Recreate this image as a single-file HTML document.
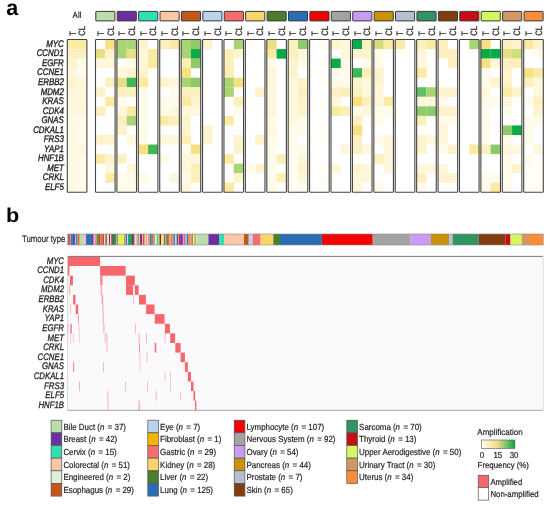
<!DOCTYPE html>
<html><head><meta charset="utf-8"><title>Figure</title>
<style>
html,body{margin:0;padding:0;background:#fff;}
body{width:550px;height:505px;overflow:hidden;}
svg{display:block;font-family:'Liberation Sans', Arial, sans-serif;text-rendering:geometricPrecision;}
</style></head>
<body>
<svg width="550" height="505" viewBox="0 0 550 505">
<text transform="translate(6.2,15.3)" font-size="21.5" font-weight="bold" fill="#000">a</text>
<text transform="translate(72.6,18) scale(0.9,1)" font-size="8.8" fill="#231f20" stroke="#231f20" stroke-width="0.2">All</text>
<rect x="67.3" y="39.5" width="9.85" height="9.6" fill="#fbeaa2"/>
<rect x="77.1" y="39.5" width="9.85" height="9.6" fill="#fbeaa2"/>
<rect x="67.3" y="49.05" width="9.85" height="9.6" fill="#fcf0c1"/>
<rect x="77.1" y="49.05" width="9.85" height="9.6" fill="#fcf0c1"/>
<rect x="67.3" y="58.6" width="9.85" height="9.6" fill="#fdf3cd"/>
<rect x="77.1" y="58.6" width="9.85" height="9.6" fill="#fffbeb"/>
<rect x="67.3" y="68.15" width="9.85" height="9.6" fill="#fef7dc"/>
<rect x="77.1" y="68.15" width="9.85" height="9.6" fill="#fffbeb"/>
<rect x="67.3" y="77.7" width="9.85" height="9.6" fill="#fdf3cd"/>
<rect x="77.1" y="77.7" width="9.85" height="9.6" fill="#fef7dc"/>
<rect x="67.3" y="87.25" width="9.85" height="9.6" fill="#fef7dc"/>
<rect x="77.1" y="87.25" width="9.85" height="9.6" fill="#fef7dc"/>
<rect x="67.3" y="96.8" width="9.85" height="9.6" fill="#fef7dc"/>
<rect x="77.1" y="96.8" width="9.85" height="9.6" fill="#fef7dc"/>
<rect x="67.3" y="106.35" width="9.85" height="9.6" fill="#fef7dc"/>
<rect x="77.1" y="106.35" width="9.85" height="9.6" fill="#fef7dc"/>
<rect x="67.3" y="115.9" width="9.85" height="9.6" fill="#fef9e2"/>
<rect x="77.1" y="115.9" width="9.85" height="9.6" fill="#fffbeb"/>
<rect x="67.3" y="125.45" width="9.85" height="9.6" fill="#fef9e2"/>
<rect x="77.1" y="125.45" width="9.85" height="9.6" fill="#fffbeb"/>
<rect x="67.3" y="135" width="9.85" height="9.6" fill="#fef9e2"/>
<rect x="77.1" y="135" width="9.85" height="9.6" fill="#fffbeb"/>
<rect x="67.3" y="144.55" width="9.85" height="9.6" fill="#fef9e2"/>
<rect x="77.1" y="144.55" width="9.85" height="9.6" fill="#fef7dc"/>
<rect x="67.3" y="154.1" width="9.85" height="9.6" fill="#fef9e2"/>
<rect x="77.1" y="154.1" width="9.85" height="9.6" fill="#fffbeb"/>
<rect x="67.3" y="163.65" width="9.85" height="9.6" fill="#fef9e2"/>
<rect x="77.1" y="163.65" width="9.85" height="9.6" fill="#fffbeb"/>
<rect x="67.3" y="173.2" width="9.85" height="9.6" fill="#fef9e2"/>
<rect x="77.1" y="173.2" width="9.85" height="9.6" fill="#fffbeb"/>
<rect x="67.3" y="182.75" width="9.85" height="9.6" fill="#fef9e2"/>
<rect x="77.1" y="182.75" width="9.85" height="9.6" fill="#fffbeb"/>
<rect x="67.3" y="39.5" width="19.6" height="152.8" fill="none" stroke="#444" stroke-width="1.1" rx="0.8"/>
<text transform="translate(75.5,35.7) rotate(-90) scale(0.8,1)" font-size="9.3" fill="#231f20" stroke="#231f20" stroke-width="0.25">T</text>
<text transform="translate(85.3,35.7) rotate(-90) scale(0.8,1)" font-size="9.3" fill="#231f20" stroke="#231f20" stroke-width="0.25">CL</text>
<rect x="105.3" y="39.5" width="9.85" height="9.6" fill="#f7e07e"/>
<rect x="95.5" y="49.05" width="9.85" height="9.6" fill="#e6df84"/>
<rect x="105.3" y="49.05" width="9.85" height="9.6" fill="#fdf3cd"/>
<rect x="95.5" y="58.6" width="9.85" height="9.6" fill="#fef7dc"/>
<rect x="105.3" y="58.6" width="9.85" height="9.6" fill="#fef7dc"/>
<rect x="105.3" y="77.7" width="9.85" height="9.6" fill="#fcf0c1"/>
<rect x="95.5" y="87.25" width="9.85" height="9.6" fill="#fdf3cd"/>
<rect x="105.3" y="96.8" width="9.85" height="9.6" fill="#fbeaa2"/>
<rect x="95.5" y="106.35" width="9.85" height="9.6" fill="#fcf0c1"/>
<rect x="95.5" y="135" width="9.85" height="9.6" fill="#fdf3cd"/>
<rect x="105.3" y="135" width="9.85" height="9.6" fill="#fdf3cd"/>
<rect x="95.5" y="154.1" width="9.85" height="9.6" fill="#fbeaa2"/>
<rect x="105.3" y="154.1" width="9.85" height="9.6" fill="#fdf3cd"/>
<rect x="105.3" y="163.65" width="9.85" height="9.6" fill="#fef7dc"/>
<rect x="105.3" y="173.2" width="9.85" height="9.6" fill="#fbeaa2"/>
<rect x="95.5" y="39.5" width="19.6" height="152.8" fill="none" stroke="#444" stroke-width="1.1" rx="0.8"/>
<text transform="translate(103.7,35.7) rotate(-90) scale(0.8,1)" font-size="9.3" fill="#231f20" stroke="#231f20" stroke-width="0.25">T</text>
<text transform="translate(113.5,35.7) rotate(-90) scale(0.8,1)" font-size="9.3" fill="#231f20" stroke="#231f20" stroke-width="0.25">CL</text>
<rect x="95.8" y="11.4" width="19.1" height="9.5" fill="#bcdcaa" stroke="#3a3a3a" stroke-width="1" rx="0.4"/>
<rect x="116.91" y="39.5" width="9.85" height="9.6" fill="#a9d473"/>
<rect x="126.71" y="39.5" width="9.85" height="9.6" fill="#a9d473"/>
<rect x="116.91" y="49.05" width="9.85" height="9.6" fill="#a9d473"/>
<rect x="126.71" y="49.05" width="9.85" height="9.6" fill="#e6df84"/>
<rect x="116.91" y="58.6" width="9.85" height="9.6" fill="#fffdf4"/>
<rect x="126.71" y="58.6" width="9.85" height="9.6" fill="#fffbeb"/>
<rect x="116.91" y="68.15" width="9.85" height="9.6" fill="#fef7dc"/>
<rect x="126.71" y="68.15" width="9.85" height="9.6" fill="#fdf3cd"/>
<rect x="116.91" y="77.7" width="9.85" height="9.6" fill="#e6df84"/>
<rect x="126.71" y="77.7" width="9.85" height="9.6" fill="#40b753"/>
<rect x="116.91" y="87.25" width="9.85" height="9.6" fill="#fcf0c1"/>
<rect x="126.71" y="87.25" width="9.85" height="9.6" fill="#fcf0c1"/>
<rect x="116.91" y="96.8" width="9.85" height="9.6" fill="#fffbeb"/>
<rect x="116.91" y="106.35" width="9.85" height="9.6" fill="#fef7dc"/>
<rect x="126.71" y="106.35" width="9.85" height="9.6" fill="#fbeaa2"/>
<rect x="116.91" y="115.9" width="9.85" height="9.6" fill="#fcf0c1"/>
<rect x="126.71" y="115.9" width="9.85" height="9.6" fill="#a9d473"/>
<rect x="116.91" y="125.45" width="9.85" height="9.6" fill="#fdf3cd"/>
<rect x="126.71" y="135" width="9.85" height="9.6" fill="#fef7dc"/>
<rect x="116.91" y="154.1" width="9.85" height="9.6" fill="#fcf0c1"/>
<rect x="126.71" y="163.65" width="9.85" height="9.6" fill="#fef7dc"/>
<rect x="116.91" y="173.2" width="9.85" height="9.6" fill="#fffbeb"/>
<rect x="126.71" y="173.2" width="9.85" height="9.6" fill="#fffbeb"/>
<rect x="116.91" y="182.75" width="9.85" height="9.6" fill="#fffbeb"/>
<rect x="126.71" y="182.75" width="9.85" height="9.6" fill="#fffbeb"/>
<rect x="116.91" y="39.5" width="19.6" height="152.8" fill="none" stroke="#444" stroke-width="1.1" rx="0.8"/>
<text transform="translate(125.11,35.7) rotate(-90) scale(0.8,1)" font-size="9.3" fill="#231f20" stroke="#231f20" stroke-width="0.25">T</text>
<text transform="translate(134.91,35.7) rotate(-90) scale(0.8,1)" font-size="9.3" fill="#231f20" stroke="#231f20" stroke-width="0.25">CL</text>
<rect x="117.21" y="11.4" width="19.1" height="9.5" fill="#6b2fa0" stroke="#3a3a3a" stroke-width="1" rx="0.4"/>
<rect x="138.32" y="39.5" width="9.85" height="9.6" fill="#fdf3cd"/>
<rect x="138.32" y="49.05" width="9.85" height="9.6" fill="#fef7dc"/>
<rect x="148.12" y="49.05" width="9.85" height="9.6" fill="#fbeaa2"/>
<rect x="138.32" y="58.6" width="9.85" height="9.6" fill="#fef7dc"/>
<rect x="148.12" y="58.6" width="9.85" height="9.6" fill="#fbeaa2"/>
<rect x="138.32" y="68.15" width="9.85" height="9.6" fill="#fdf3cd"/>
<rect x="138.32" y="77.7" width="9.85" height="9.6" fill="#fbeaa2"/>
<rect x="138.32" y="87.25" width="9.85" height="9.6" fill="#fffbeb"/>
<rect x="138.32" y="96.8" width="9.85" height="9.6" fill="#fffbeb"/>
<rect x="138.32" y="106.35" width="9.85" height="9.6" fill="#fffbeb"/>
<rect x="138.32" y="115.9" width="9.85" height="9.6" fill="#fffbeb"/>
<rect x="138.32" y="125.45" width="9.85" height="9.6" fill="#fffbeb"/>
<rect x="138.32" y="135" width="9.85" height="9.6" fill="#fffbeb"/>
<rect x="138.32" y="144.55" width="9.85" height="9.6" fill="#f7e07e"/>
<rect x="148.12" y="144.55" width="9.85" height="9.6" fill="#40b753"/>
<rect x="138.32" y="173.2" width="9.85" height="9.6" fill="#fffbeb"/>
<rect x="138.32" y="39.5" width="19.6" height="152.8" fill="none" stroke="#444" stroke-width="1.1" rx="0.8"/>
<text transform="translate(146.52,35.7) rotate(-90) scale(0.8,1)" font-size="9.3" fill="#231f20" stroke="#231f20" stroke-width="0.25">T</text>
<text transform="translate(156.32,35.7) rotate(-90) scale(0.8,1)" font-size="9.3" fill="#231f20" stroke="#231f20" stroke-width="0.25">CL</text>
<rect x="138.62" y="11.4" width="19.1" height="9.5" fill="#2de2b0" stroke="#3a3a3a" stroke-width="1" rx="0.4"/>
<rect x="159.73" y="39.5" width="9.85" height="9.6" fill="#fcf0c1"/>
<rect x="169.53" y="39.5" width="9.85" height="9.6" fill="#fbeaa2"/>
<rect x="159.73" y="77.7" width="9.85" height="9.6" fill="#fdf3cd"/>
<rect x="169.53" y="77.7" width="9.85" height="9.6" fill="#fef7dc"/>
<rect x="169.53" y="87.25" width="9.85" height="9.6" fill="#fffbeb"/>
<rect x="159.73" y="96.8" width="9.85" height="9.6" fill="#fffbeb"/>
<rect x="169.53" y="96.8" width="9.85" height="9.6" fill="#fffbeb"/>
<rect x="159.73" y="106.35" width="9.85" height="9.6" fill="#fffbeb"/>
<rect x="169.53" y="106.35" width="9.85" height="9.6" fill="#fef7dc"/>
<rect x="159.73" y="115.9" width="9.85" height="9.6" fill="#fbeaa2"/>
<rect x="169.53" y="115.9" width="9.85" height="9.6" fill="#fcf0c1"/>
<rect x="159.73" y="135" width="9.85" height="9.6" fill="#fef7dc"/>
<rect x="169.53" y="135" width="9.85" height="9.6" fill="#fef7dc"/>
<rect x="159.73" y="154.1" width="9.85" height="9.6" fill="#fffbeb"/>
<rect x="169.53" y="173.2" width="9.85" height="9.6" fill="#fef7dc"/>
<rect x="159.73" y="39.5" width="19.6" height="152.8" fill="none" stroke="#444" stroke-width="1.1" rx="0.8"/>
<text transform="translate(167.93,35.7) rotate(-90) scale(0.8,1)" font-size="9.3" fill="#231f20" stroke="#231f20" stroke-width="0.25">T</text>
<text transform="translate(177.73,35.7) rotate(-90) scale(0.8,1)" font-size="9.3" fill="#231f20" stroke="#231f20" stroke-width="0.25">CL</text>
<rect x="160.03" y="11.4" width="19.1" height="9.5" fill="#f9c7a6" stroke="#3a3a3a" stroke-width="1" rx="0.4"/>
<rect x="181.14" y="39.5" width="9.85" height="9.6" fill="#a9d473"/>
<rect x="190.94" y="39.5" width="9.85" height="9.6" fill="#8dcb69"/>
<rect x="181.14" y="49.05" width="9.85" height="9.6" fill="#a9d473"/>
<rect x="190.94" y="49.05" width="9.85" height="9.6" fill="#08ab45"/>
<rect x="181.14" y="58.6" width="9.85" height="9.6" fill="#fcefb8"/>
<rect x="190.94" y="58.6" width="9.85" height="9.6" fill="#8dcb69"/>
<rect x="181.14" y="68.15" width="9.85" height="9.6" fill="#f7e07e"/>
<rect x="181.14" y="77.7" width="9.85" height="9.6" fill="#a9d473"/>
<rect x="190.94" y="77.7" width="9.85" height="9.6" fill="#8dcb69"/>
<rect x="181.14" y="87.25" width="9.85" height="9.6" fill="#fcf0c1"/>
<rect x="190.94" y="87.25" width="9.85" height="9.6" fill="#fcf0c1"/>
<rect x="181.14" y="96.8" width="9.85" height="9.6" fill="#fbeaa2"/>
<rect x="190.94" y="96.8" width="9.85" height="9.6" fill="#fdf3cd"/>
<rect x="181.14" y="106.35" width="9.85" height="9.6" fill="#fef7dc"/>
<rect x="190.94" y="106.35" width="9.85" height="9.6" fill="#fef7dc"/>
<rect x="181.14" y="115.9" width="9.85" height="9.6" fill="#fdf3cd"/>
<rect x="181.14" y="125.45" width="9.85" height="9.6" fill="#fdf3cd"/>
<rect x="181.14" y="135" width="9.85" height="9.6" fill="#fcefb8"/>
<rect x="181.14" y="144.55" width="9.85" height="9.6" fill="#fffbeb"/>
<rect x="190.94" y="144.55" width="9.85" height="9.6" fill="#f7e07e"/>
<rect x="181.14" y="154.1" width="9.85" height="9.6" fill="#fef7dc"/>
<rect x="190.94" y="154.1" width="9.85" height="9.6" fill="#fef7dc"/>
<rect x="181.14" y="163.65" width="9.85" height="9.6" fill="#fef7dc"/>
<rect x="190.94" y="163.65" width="9.85" height="9.6" fill="#fcefb8"/>
<rect x="181.14" y="173.2" width="9.85" height="9.6" fill="#fffbeb"/>
<rect x="190.94" y="173.2" width="9.85" height="9.6" fill="#fcefb8"/>
<rect x="181.14" y="182.75" width="9.85" height="9.6" fill="#fef7dc"/>
<rect x="181.14" y="39.5" width="19.6" height="152.8" fill="none" stroke="#444" stroke-width="1.1" rx="0.8"/>
<text transform="translate(189.34,35.7) rotate(-90) scale(0.8,1)" font-size="9.3" fill="#231f20" stroke="#231f20" stroke-width="0.25">T</text>
<text transform="translate(199.14,35.7) rotate(-90) scale(0.8,1)" font-size="9.3" fill="#231f20" stroke="#231f20" stroke-width="0.25">CL</text>
<rect x="181.44" y="11.4" width="19.1" height="9.5" fill="#c6551a" stroke="#3a3a3a" stroke-width="1" rx="0.4"/>
<rect x="202.55" y="39.5" width="9.85" height="9.6" fill="#fdf3cd"/>
<rect x="202.55" y="125.45" width="9.85" height="9.6" fill="#fdf3cd"/>
<rect x="202.55" y="135" width="9.85" height="9.6" fill="#fdf3cd"/>
<rect x="202.55" y="39.5" width="19.6" height="152.8" fill="none" stroke="#444" stroke-width="1.1" rx="0.8"/>
<text transform="translate(210.75,35.7) rotate(-90) scale(0.8,1)" font-size="9.3" fill="#231f20" stroke="#231f20" stroke-width="0.25">T</text>
<text transform="translate(220.55,35.7) rotate(-90) scale(0.8,1)" font-size="9.3" fill="#231f20" stroke="#231f20" stroke-width="0.25">CL</text>
<rect x="202.85" y="11.4" width="19.1" height="9.5" fill="#b7d3ee" stroke="#3a3a3a" stroke-width="1" rx="0.4"/>
<rect x="233.76" y="39.5" width="9.85" height="9.6" fill="#a9d473"/>
<rect x="223.96" y="49.05" width="9.85" height="9.6" fill="#fcefb8"/>
<rect x="233.76" y="49.05" width="9.85" height="9.6" fill="#fdf3cd"/>
<rect x="223.96" y="58.6" width="9.85" height="9.6" fill="#fcefb8"/>
<rect x="223.96" y="68.15" width="9.85" height="9.6" fill="#fcefb8"/>
<rect x="223.96" y="77.7" width="9.85" height="9.6" fill="#a9d473"/>
<rect x="233.76" y="77.7" width="9.85" height="9.6" fill="#f7e07e"/>
<rect x="223.96" y="87.25" width="9.85" height="9.6" fill="#a9d473"/>
<rect x="233.76" y="96.8" width="9.85" height="9.6" fill="#fcefb8"/>
<rect x="233.76" y="106.35" width="9.85" height="9.6" fill="#fffbeb"/>
<rect x="223.96" y="115.9" width="9.85" height="9.6" fill="#fbeaa2"/>
<rect x="233.76" y="135" width="9.85" height="9.6" fill="#fdf3cd"/>
<rect x="233.76" y="144.55" width="9.85" height="9.6" fill="#fdf3cd"/>
<rect x="223.96" y="154.1" width="9.85" height="9.6" fill="#fbeaa2"/>
<rect x="233.76" y="163.65" width="9.85" height="9.6" fill="#a9d473"/>
<rect x="233.76" y="173.2" width="9.85" height="9.6" fill="#fdf3cd"/>
<rect x="223.96" y="182.75" width="9.85" height="9.6" fill="#fbeaa2"/>
<rect x="223.96" y="39.5" width="19.6" height="152.8" fill="none" stroke="#444" stroke-width="1.1" rx="0.8"/>
<text transform="translate(232.16,35.7) rotate(-90) scale(0.8,1)" font-size="9.3" fill="#231f20" stroke="#231f20" stroke-width="0.25">T</text>
<text transform="translate(241.96,35.7) rotate(-90) scale(0.8,1)" font-size="9.3" fill="#231f20" stroke="#231f20" stroke-width="0.25">CL</text>
<rect x="224.26" y="11.4" width="19.1" height="9.5" fill="#f46e6e" stroke="#3a3a3a" stroke-width="1" rx="0.4"/>
<rect x="245.37" y="39.5" width="9.85" height="9.6" fill="#fffdf4"/>
<rect x="255.17" y="87.25" width="9.85" height="9.6" fill="#fdf3cd"/>
<rect x="255.17" y="135" width="9.85" height="9.6" fill="#fdf3cd"/>
<rect x="245.37" y="163.65" width="9.85" height="9.6" fill="#fffbeb"/>
<rect x="255.17" y="163.65" width="9.85" height="9.6" fill="#fdf3cd"/>
<rect x="245.37" y="39.5" width="19.6" height="152.8" fill="none" stroke="#444" stroke-width="1.1" rx="0.8"/>
<text transform="translate(253.57,35.7) rotate(-90) scale(0.8,1)" font-size="9.3" fill="#231f20" stroke="#231f20" stroke-width="0.25">T</text>
<text transform="translate(263.37,35.7) rotate(-90) scale(0.8,1)" font-size="9.3" fill="#231f20" stroke="#231f20" stroke-width="0.25">CL</text>
<rect x="245.67" y="11.4" width="19.1" height="9.5" fill="#fbd46a" stroke="#3a3a3a" stroke-width="1" rx="0.4"/>
<rect x="266.78" y="39.5" width="9.85" height="9.6" fill="#e6df84"/>
<rect x="266.78" y="49.05" width="9.85" height="9.6" fill="#fbeaa2"/>
<rect x="276.58" y="49.05" width="9.85" height="9.6" fill="#08ab45"/>
<rect x="266.78" y="58.6" width="9.85" height="9.6" fill="#fffbeb"/>
<rect x="266.78" y="68.15" width="9.85" height="9.6" fill="#fef7dc"/>
<rect x="266.78" y="77.7" width="9.85" height="9.6" fill="#fef7dc"/>
<rect x="266.78" y="87.25" width="9.85" height="9.6" fill="#fef7dc"/>
<rect x="266.78" y="96.8" width="9.85" height="9.6" fill="#fef7dc"/>
<rect x="266.78" y="106.35" width="9.85" height="9.6" fill="#fef7dc"/>
<rect x="266.78" y="115.9" width="9.85" height="9.6" fill="#fffbeb"/>
<rect x="266.78" y="125.45" width="9.85" height="9.6" fill="#fef7dc"/>
<rect x="266.78" y="135" width="9.85" height="9.6" fill="#fffbeb"/>
<rect x="266.78" y="144.55" width="9.85" height="9.6" fill="#fffbeb"/>
<rect x="266.78" y="154.1" width="9.85" height="9.6" fill="#fffbeb"/>
<rect x="276.58" y="154.1" width="9.85" height="9.6" fill="#fcefb8"/>
<rect x="266.78" y="163.65" width="9.85" height="9.6" fill="#fffbeb"/>
<rect x="266.78" y="173.2" width="9.85" height="9.6" fill="#fffbeb"/>
<rect x="276.58" y="173.2" width="9.85" height="9.6" fill="#fcefb8"/>
<rect x="266.78" y="182.75" width="9.85" height="9.6" fill="#fffbeb"/>
<rect x="266.78" y="39.5" width="19.6" height="152.8" fill="none" stroke="#444" stroke-width="1.1" rx="0.8"/>
<text transform="translate(274.98,35.7) rotate(-90) scale(0.8,1)" font-size="9.3" fill="#231f20" stroke="#231f20" stroke-width="0.25">T</text>
<text transform="translate(284.78,35.7) rotate(-90) scale(0.8,1)" font-size="9.3" fill="#231f20" stroke="#231f20" stroke-width="0.25">CL</text>
<rect x="267.08" y="11.4" width="19.1" height="9.5" fill="#4a7d2d" stroke="#3a3a3a" stroke-width="1" rx="0.4"/>
<rect x="288.19" y="39.5" width="9.85" height="9.6" fill="#fcefb8"/>
<rect x="297.99" y="39.5" width="9.85" height="9.6" fill="#8dcb69"/>
<rect x="288.19" y="49.05" width="9.85" height="9.6" fill="#fcf0c1"/>
<rect x="297.99" y="49.05" width="9.85" height="9.6" fill="#fef7dc"/>
<rect x="288.19" y="58.6" width="9.85" height="9.6" fill="#fdf3cd"/>
<rect x="297.99" y="58.6" width="9.85" height="9.6" fill="#fffbeb"/>
<rect x="288.19" y="68.15" width="9.85" height="9.6" fill="#fdf3cd"/>
<rect x="288.19" y="77.7" width="9.85" height="9.6" fill="#fef7dc"/>
<rect x="297.99" y="77.7" width="9.85" height="9.6" fill="#fdf3cd"/>
<rect x="288.19" y="87.25" width="9.85" height="9.6" fill="#fef7dc"/>
<rect x="297.99" y="87.25" width="9.85" height="9.6" fill="#fcf0c1"/>
<rect x="288.19" y="96.8" width="9.85" height="9.6" fill="#fef7dc"/>
<rect x="297.99" y="96.8" width="9.85" height="9.6" fill="#fdf3cd"/>
<rect x="288.19" y="106.35" width="9.85" height="9.6" fill="#fef7dc"/>
<rect x="297.99" y="106.35" width="9.85" height="9.6" fill="#fdf3cd"/>
<rect x="288.19" y="115.9" width="9.85" height="9.6" fill="#fef7dc"/>
<rect x="297.99" y="115.9" width="9.85" height="9.6" fill="#fffbeb"/>
<rect x="288.19" y="125.45" width="9.85" height="9.6" fill="#fffbeb"/>
<rect x="297.99" y="125.45" width="9.85" height="9.6" fill="#fffbeb"/>
<rect x="288.19" y="135" width="9.85" height="9.6" fill="#fffbeb"/>
<rect x="288.19" y="144.55" width="9.85" height="9.6" fill="#fffbeb"/>
<rect x="297.99" y="144.55" width="9.85" height="9.6" fill="#fffbeb"/>
<rect x="288.19" y="154.1" width="9.85" height="9.6" fill="#fffdf4"/>
<rect x="297.99" y="154.1" width="9.85" height="9.6" fill="#fef7dc"/>
<rect x="288.19" y="163.65" width="9.85" height="9.6" fill="#fffdf4"/>
<rect x="297.99" y="163.65" width="9.85" height="9.6" fill="#fdf3cd"/>
<rect x="288.19" y="173.2" width="9.85" height="9.6" fill="#fffdf4"/>
<rect x="297.99" y="173.2" width="9.85" height="9.6" fill="#fef7dc"/>
<rect x="288.19" y="182.75" width="9.85" height="9.6" fill="#fffdf4"/>
<rect x="297.99" y="182.75" width="9.85" height="9.6" fill="#fffdf4"/>
<rect x="288.19" y="39.5" width="19.6" height="152.8" fill="none" stroke="#444" stroke-width="1.1" rx="0.8"/>
<text transform="translate(296.39,35.7) rotate(-90) scale(0.8,1)" font-size="9.3" fill="#231f20" stroke="#231f20" stroke-width="0.25">T</text>
<text transform="translate(306.19,35.7) rotate(-90) scale(0.8,1)" font-size="9.3" fill="#231f20" stroke="#231f20" stroke-width="0.25">CL</text>
<rect x="288.49" y="11.4" width="19.1" height="9.5" fill="#2b6db4" stroke="#3a3a3a" stroke-width="1" rx="0.4"/>
<rect x="319.4" y="39.5" width="9.85" height="9.6" fill="#fffdf4"/>
<rect x="319.4" y="58.6" width="9.85" height="9.6" fill="#fffdf4"/>
<rect x="319.4" y="77.7" width="9.85" height="9.6" fill="#fffdf4"/>
<rect x="319.4" y="96.8" width="9.85" height="9.6" fill="#fffdf4"/>
<rect x="319.4" y="125.45" width="9.85" height="9.6" fill="#fffdf4"/>
<rect x="319.4" y="135" width="9.85" height="9.6" fill="#fffdf4"/>
<rect x="319.4" y="163.65" width="9.85" height="9.6" fill="#fffdf4"/>
<rect x="319.4" y="173.2" width="9.85" height="9.6" fill="#fffdf4"/>
<rect x="309.6" y="39.5" width="19.6" height="152.8" fill="none" stroke="#444" stroke-width="1.1" rx="0.8"/>
<text transform="translate(317.8,35.7) rotate(-90) scale(0.8,1)" font-size="9.3" fill="#231f20" stroke="#231f20" stroke-width="0.25">T</text>
<text transform="translate(327.6,35.7) rotate(-90) scale(0.8,1)" font-size="9.3" fill="#231f20" stroke="#231f20" stroke-width="0.25">CL</text>
<rect x="309.9" y="11.4" width="19.1" height="9.5" fill="#f50000" stroke="#3a3a3a" stroke-width="1" rx="0.4"/>
<rect x="331.01" y="39.5" width="9.85" height="9.6" fill="#fdf3cd"/>
<rect x="340.81" y="39.5" width="9.85" height="9.6" fill="#fef7dc"/>
<rect x="340.81" y="49.05" width="9.85" height="9.6" fill="#fef7dc"/>
<rect x="331.01" y="58.6" width="9.85" height="9.6" fill="#08ab45"/>
<rect x="340.81" y="58.6" width="9.85" height="9.6" fill="#fffbeb"/>
<rect x="331.01" y="68.15" width="9.85" height="9.6" fill="#fffbeb"/>
<rect x="340.81" y="68.15" width="9.85" height="9.6" fill="#fffbeb"/>
<rect x="331.01" y="77.7" width="9.85" height="9.6" fill="#fffbeb"/>
<rect x="340.81" y="77.7" width="9.85" height="9.6" fill="#fffbeb"/>
<rect x="331.01" y="87.25" width="9.85" height="9.6" fill="#fcf0c1"/>
<rect x="340.81" y="87.25" width="9.85" height="9.6" fill="#fcefb8"/>
<rect x="331.01" y="96.8" width="9.85" height="9.6" fill="#fef7dc"/>
<rect x="331.01" y="106.35" width="9.85" height="9.6" fill="#fbeaa2"/>
<rect x="340.81" y="106.35" width="9.85" height="9.6" fill="#fcefb8"/>
<rect x="340.81" y="144.55" width="9.85" height="9.6" fill="#fef7dc"/>
<rect x="331.01" y="163.65" width="9.85" height="9.6" fill="#fef7dc"/>
<rect x="331.01" y="39.5" width="19.6" height="152.8" fill="none" stroke="#444" stroke-width="1.1" rx="0.8"/>
<text transform="translate(339.21,35.7) rotate(-90) scale(0.8,1)" font-size="9.3" fill="#231f20" stroke="#231f20" stroke-width="0.25">T</text>
<text transform="translate(349.01,35.7) rotate(-90) scale(0.8,1)" font-size="9.3" fill="#231f20" stroke="#231f20" stroke-width="0.25">CL</text>
<rect x="331.31" y="11.4" width="19.1" height="9.5" fill="#a3a3a3" stroke="#3a3a3a" stroke-width="1" rx="0.4"/>
<rect x="352.42" y="39.5" width="9.85" height="9.6" fill="#08ab45"/>
<rect x="362.22" y="39.5" width="9.85" height="9.6" fill="#fcf0c1"/>
<rect x="352.42" y="49.05" width="9.85" height="9.6" fill="#fdf3cd"/>
<rect x="362.22" y="49.05" width="9.85" height="9.6" fill="#fdf3cd"/>
<rect x="362.22" y="58.6" width="9.85" height="9.6" fill="#fffbeb"/>
<rect x="352.42" y="68.15" width="9.85" height="9.6" fill="#40b753"/>
<rect x="362.22" y="68.15" width="9.85" height="9.6" fill="#fcefb8"/>
<rect x="352.42" y="77.7" width="9.85" height="9.6" fill="#fdf3cd"/>
<rect x="362.22" y="77.7" width="9.85" height="9.6" fill="#fef7dc"/>
<rect x="352.42" y="87.25" width="9.85" height="9.6" fill="#fcf0c1"/>
<rect x="362.22" y="87.25" width="9.85" height="9.6" fill="#fef7dc"/>
<rect x="352.42" y="96.8" width="9.85" height="9.6" fill="#f7e07e"/>
<rect x="362.22" y="96.8" width="9.85" height="9.6" fill="#fcf0c1"/>
<rect x="352.42" y="106.35" width="9.85" height="9.6" fill="#fffbeb"/>
<rect x="362.22" y="106.35" width="9.85" height="9.6" fill="#fef7dc"/>
<rect x="352.42" y="115.9" width="9.85" height="9.6" fill="#fcf0c1"/>
<rect x="352.42" y="125.45" width="9.85" height="9.6" fill="#f7e07e"/>
<rect x="352.42" y="135" width="9.85" height="9.6" fill="#fcf0c1"/>
<rect x="352.42" y="144.55" width="9.85" height="9.6" fill="#fcf0c1"/>
<rect x="362.22" y="144.55" width="9.85" height="9.6" fill="#fef7dc"/>
<rect x="352.42" y="163.65" width="9.85" height="9.6" fill="#fdf3cd"/>
<rect x="362.22" y="163.65" width="9.85" height="9.6" fill="#fef7dc"/>
<rect x="352.42" y="173.2" width="9.85" height="9.6" fill="#fef7dc"/>
<rect x="362.22" y="173.2" width="9.85" height="9.6" fill="#fef7dc"/>
<rect x="352.42" y="182.75" width="9.85" height="9.6" fill="#fef7dc"/>
<rect x="352.42" y="39.5" width="19.6" height="152.8" fill="none" stroke="#444" stroke-width="1.1" rx="0.8"/>
<text transform="translate(360.62,35.7) rotate(-90) scale(0.8,1)" font-size="9.3" fill="#231f20" stroke="#231f20" stroke-width="0.25">T</text>
<text transform="translate(370.42,35.7) rotate(-90) scale(0.8,1)" font-size="9.3" fill="#231f20" stroke="#231f20" stroke-width="0.25">CL</text>
<rect x="352.72" y="11.4" width="19.1" height="9.5" fill="#c89cf4" stroke="#3a3a3a" stroke-width="1" rx="0.4"/>
<rect x="373.83" y="39.5" width="9.85" height="9.6" fill="#cfdd7c"/>
<rect x="383.63" y="39.5" width="9.85" height="9.6" fill="#fbeaa2"/>
<rect x="373.83" y="49.05" width="9.85" height="9.6" fill="#fffbeb"/>
<rect x="373.83" y="58.6" width="9.85" height="9.6" fill="#fffbeb"/>
<rect x="373.83" y="68.15" width="9.85" height="9.6" fill="#fdf3cd"/>
<rect x="373.83" y="77.7" width="9.85" height="9.6" fill="#fdf3cd"/>
<rect x="373.83" y="87.25" width="9.85" height="9.6" fill="#fef7dc"/>
<rect x="373.83" y="96.8" width="9.85" height="9.6" fill="#fef7dc"/>
<rect x="383.63" y="96.8" width="9.85" height="9.6" fill="#fbeaa2"/>
<rect x="373.83" y="106.35" width="9.85" height="9.6" fill="#fffbeb"/>
<rect x="383.63" y="106.35" width="9.85" height="9.6" fill="#fffbeb"/>
<rect x="373.83" y="115.9" width="9.85" height="9.6" fill="#fffbeb"/>
<rect x="373.83" y="135" width="9.85" height="9.6" fill="#fffbeb"/>
<rect x="383.63" y="135" width="9.85" height="9.6" fill="#fef7dc"/>
<rect x="383.63" y="144.55" width="9.85" height="9.6" fill="#fef7dc"/>
<rect x="373.83" y="154.1" width="9.85" height="9.6" fill="#fcf0c1"/>
<rect x="383.63" y="154.1" width="9.85" height="9.6" fill="#fef7dc"/>
<rect x="383.63" y="163.65" width="9.85" height="9.6" fill="#fef7dc"/>
<rect x="373.83" y="182.75" width="9.85" height="9.6" fill="#fffbeb"/>
<rect x="373.83" y="39.5" width="19.6" height="152.8" fill="none" stroke="#444" stroke-width="1.1" rx="0.8"/>
<text transform="translate(382.03,35.7) rotate(-90) scale(0.8,1)" font-size="9.3" fill="#231f20" stroke="#231f20" stroke-width="0.25">T</text>
<text transform="translate(391.83,35.7) rotate(-90) scale(0.8,1)" font-size="9.3" fill="#231f20" stroke="#231f20" stroke-width="0.25">CL</text>
<rect x="374.13" y="11.4" width="19.1" height="9.5" fill="#c99208" stroke="#3a3a3a" stroke-width="1" rx="0.4"/>
<rect x="395.24" y="39.5" width="9.85" height="9.6" fill="#fbeaa2"/>
<rect x="395.24" y="49.05" width="9.85" height="9.6" fill="#fffdf4"/>
<rect x="395.24" y="39.5" width="19.6" height="152.8" fill="none" stroke="#444" stroke-width="1.1" rx="0.8"/>
<text transform="translate(403.44,35.7) rotate(-90) scale(0.8,1)" font-size="9.3" fill="#231f20" stroke="#231f20" stroke-width="0.25">T</text>
<text transform="translate(413.24,35.7) rotate(-90) scale(0.8,1)" font-size="9.3" fill="#231f20" stroke="#231f20" stroke-width="0.25">CL</text>
<rect x="395.54" y="11.4" width="19.1" height="9.5" fill="#b5bfd2" stroke="#3a3a3a" stroke-width="1" rx="0.4"/>
<rect x="416.65" y="39.5" width="9.85" height="9.6" fill="#fcf0c1"/>
<rect x="426.45" y="39.5" width="9.85" height="9.6" fill="#fbeaa2"/>
<rect x="416.65" y="49.05" width="9.85" height="9.6" fill="#fef7dc"/>
<rect x="416.65" y="58.6" width="9.85" height="9.6" fill="#fef7dc"/>
<rect x="416.65" y="68.15" width="9.85" height="9.6" fill="#fbeaa2"/>
<rect x="416.65" y="87.25" width="9.85" height="9.6" fill="#60bf5e"/>
<rect x="426.45" y="87.25" width="9.85" height="9.6" fill="#a9d473"/>
<rect x="416.65" y="96.8" width="9.85" height="9.6" fill="#fef7dc"/>
<rect x="426.45" y="96.8" width="9.85" height="9.6" fill="#fef7dc"/>
<rect x="416.65" y="106.35" width="9.85" height="9.6" fill="#8dcb69"/>
<rect x="426.45" y="106.35" width="9.85" height="9.6" fill="#8dcb69"/>
<rect x="416.65" y="115.9" width="9.85" height="9.6" fill="#fcefb8"/>
<rect x="416.65" y="135" width="9.85" height="9.6" fill="#fdf3cd"/>
<rect x="426.45" y="135" width="9.85" height="9.6" fill="#fef7dc"/>
<rect x="416.65" y="144.55" width="9.85" height="9.6" fill="#fdf3cd"/>
<rect x="416.65" y="163.65" width="9.85" height="9.6" fill="#fef7dc"/>
<rect x="426.45" y="163.65" width="9.85" height="9.6" fill="#fef7dc"/>
<rect x="416.65" y="173.2" width="9.85" height="9.6" fill="#fcf0c1"/>
<rect x="416.65" y="182.75" width="9.85" height="9.6" fill="#fffbeb"/>
<rect x="416.65" y="39.5" width="19.6" height="152.8" fill="none" stroke="#444" stroke-width="1.1" rx="0.8"/>
<text transform="translate(424.85,35.7) rotate(-90) scale(0.8,1)" font-size="9.3" fill="#231f20" stroke="#231f20" stroke-width="0.25">T</text>
<text transform="translate(434.65,35.7) rotate(-90) scale(0.8,1)" font-size="9.3" fill="#231f20" stroke="#231f20" stroke-width="0.25">CL</text>
<rect x="416.95" y="11.4" width="19.1" height="9.5" fill="#2f9364" stroke="#3a3a3a" stroke-width="1" rx="0.4"/>
<rect x="438.06" y="39.5" width="9.85" height="9.6" fill="#fcf0c1"/>
<rect x="438.06" y="49.05" width="9.85" height="9.6" fill="#fcf0c1"/>
<rect x="447.86" y="49.05" width="9.85" height="9.6" fill="#fcf0c1"/>
<rect x="447.86" y="58.6" width="9.85" height="9.6" fill="#fcf0c1"/>
<rect x="438.06" y="87.25" width="9.85" height="9.6" fill="#fdf3cd"/>
<rect x="447.86" y="87.25" width="9.85" height="9.6" fill="#fdf3cd"/>
<rect x="438.06" y="96.8" width="9.85" height="9.6" fill="#fffbeb"/>
<rect x="438.06" y="106.35" width="9.85" height="9.6" fill="#fdf3cd"/>
<rect x="447.86" y="106.35" width="9.85" height="9.6" fill="#fdf3cd"/>
<rect x="438.06" y="115.9" width="9.85" height="9.6" fill="#fffbeb"/>
<rect x="447.86" y="115.9" width="9.85" height="9.6" fill="#fffbeb"/>
<rect x="438.06" y="125.45" width="9.85" height="9.6" fill="#fef7dc"/>
<rect x="438.06" y="135" width="9.85" height="9.6" fill="#fef7dc"/>
<rect x="438.06" y="144.55" width="9.85" height="9.6" fill="#fffbeb"/>
<rect x="447.86" y="144.55" width="9.85" height="9.6" fill="#fdf3cd"/>
<rect x="438.06" y="163.65" width="9.85" height="9.6" fill="#fef7dc"/>
<rect x="438.06" y="173.2" width="9.85" height="9.6" fill="#fdf3cd"/>
<rect x="447.86" y="173.2" width="9.85" height="9.6" fill="#fdf3cd"/>
<rect x="438.06" y="39.5" width="19.6" height="152.8" fill="none" stroke="#444" stroke-width="1.1" rx="0.8"/>
<text transform="translate(446.26,35.7) rotate(-90) scale(0.8,1)" font-size="9.3" fill="#231f20" stroke="#231f20" stroke-width="0.25">T</text>
<text transform="translate(456.06,35.7) rotate(-90) scale(0.8,1)" font-size="9.3" fill="#231f20" stroke="#231f20" stroke-width="0.25">CL</text>
<rect x="438.36" y="11.4" width="19.1" height="9.5" fill="#7f3d10" stroke="#3a3a3a" stroke-width="1" rx="0.4"/>
<rect x="469.27" y="39.5" width="9.85" height="9.6" fill="#a9d473"/>
<rect x="469.27" y="144.55" width="9.85" height="9.6" fill="#fbeaa2"/>
<rect x="459.47" y="39.5" width="19.6" height="152.8" fill="none" stroke="#444" stroke-width="1.1" rx="0.8"/>
<text transform="translate(467.67,35.7) rotate(-90) scale(0.8,1)" font-size="9.3" fill="#231f20" stroke="#231f20" stroke-width="0.25">T</text>
<text transform="translate(477.47,35.7) rotate(-90) scale(0.8,1)" font-size="9.3" fill="#231f20" stroke="#231f20" stroke-width="0.25">CL</text>
<rect x="459.77" y="11.4" width="19.1" height="9.5" fill="#c70d14" stroke="#3a3a3a" stroke-width="1" rx="0.4"/>
<rect x="480.88" y="39.5" width="9.85" height="9.6" fill="#f7e07e"/>
<rect x="480.88" y="49.05" width="9.85" height="9.6" fill="#08ab45"/>
<rect x="490.68" y="49.05" width="9.85" height="9.6" fill="#08ab45"/>
<rect x="480.88" y="58.6" width="9.85" height="9.6" fill="#f7e07e"/>
<rect x="490.68" y="58.6" width="9.85" height="9.6" fill="#fef7dc"/>
<rect x="480.88" y="68.15" width="9.85" height="9.6" fill="#fffbeb"/>
<rect x="480.88" y="77.7" width="9.85" height="9.6" fill="#fffbeb"/>
<rect x="490.68" y="77.7" width="9.85" height="9.6" fill="#fdf3cd"/>
<rect x="480.88" y="87.25" width="9.85" height="9.6" fill="#fef7dc"/>
<rect x="480.88" y="96.8" width="9.85" height="9.6" fill="#fffbeb"/>
<rect x="490.68" y="96.8" width="9.85" height="9.6" fill="#fffbeb"/>
<rect x="480.88" y="106.35" width="9.85" height="9.6" fill="#fffbeb"/>
<rect x="480.88" y="115.9" width="9.85" height="9.6" fill="#fffbeb"/>
<rect x="480.88" y="125.45" width="9.85" height="9.6" fill="#fffbeb"/>
<rect x="480.88" y="135" width="9.85" height="9.6" fill="#fffbeb"/>
<rect x="480.88" y="144.55" width="9.85" height="9.6" fill="#fcf0c1"/>
<rect x="490.68" y="144.55" width="9.85" height="9.6" fill="#8dcb69"/>
<rect x="480.88" y="173.2" width="9.85" height="9.6" fill="#fffbeb"/>
<rect x="490.68" y="173.2" width="9.85" height="9.6" fill="#fffbeb"/>
<rect x="480.88" y="182.75" width="9.85" height="9.6" fill="#fffbeb"/>
<rect x="490.68" y="182.75" width="9.85" height="9.6" fill="#fbeaa2"/>
<rect x="480.88" y="39.5" width="19.6" height="152.8" fill="none" stroke="#444" stroke-width="1.1" rx="0.8"/>
<text transform="translate(489.08,35.7) rotate(-90) scale(0.8,1)" font-size="9.3" fill="#231f20" stroke="#231f20" stroke-width="0.25">T</text>
<text transform="translate(498.88,35.7) rotate(-90) scale(0.8,1)" font-size="9.3" fill="#231f20" stroke="#231f20" stroke-width="0.25">CL</text>
<rect x="481.18" y="11.4" width="19.1" height="9.5" fill="#d4f65e" stroke="#3a3a3a" stroke-width="1" rx="0.4"/>
<rect x="502.29" y="39.5" width="9.85" height="9.6" fill="#fcf0c1"/>
<rect x="512.09" y="39.5" width="9.85" height="9.6" fill="#fdf3cd"/>
<rect x="502.29" y="49.05" width="9.85" height="9.6" fill="#e6df84"/>
<rect x="512.09" y="49.05" width="9.85" height="9.6" fill="#cfdd7c"/>
<rect x="502.29" y="58.6" width="9.85" height="9.6" fill="#fcf0c1"/>
<rect x="512.09" y="58.6" width="9.85" height="9.6" fill="#fcefb8"/>
<rect x="502.29" y="68.15" width="9.85" height="9.6" fill="#fdf3cd"/>
<rect x="502.29" y="77.7" width="9.85" height="9.6" fill="#fdf3cd"/>
<rect x="502.29" y="87.25" width="9.85" height="9.6" fill="#fbeaa2"/>
<rect x="512.09" y="87.25" width="9.85" height="9.6" fill="#fdf3cd"/>
<rect x="502.29" y="96.8" width="9.85" height="9.6" fill="#fef7dc"/>
<rect x="502.29" y="106.35" width="9.85" height="9.6" fill="#fffbeb"/>
<rect x="502.29" y="125.45" width="9.85" height="9.6" fill="#8dcb69"/>
<rect x="512.09" y="125.45" width="9.85" height="9.6" fill="#08ab45"/>
<rect x="502.29" y="135" width="9.85" height="9.6" fill="#fffbeb"/>
<rect x="502.29" y="144.55" width="9.85" height="9.6" fill="#fef7dc"/>
<rect x="512.09" y="144.55" width="9.85" height="9.6" fill="#fef7dc"/>
<rect x="502.29" y="154.1" width="9.85" height="9.6" fill="#fffbeb"/>
<rect x="502.29" y="163.65" width="9.85" height="9.6" fill="#fffbeb"/>
<rect x="512.09" y="163.65" width="9.85" height="9.6" fill="#fdf3cd"/>
<rect x="502.29" y="173.2" width="9.85" height="9.6" fill="#fffbeb"/>
<rect x="502.29" y="182.75" width="9.85" height="9.6" fill="#fffbeb"/>
<rect x="502.29" y="39.5" width="19.6" height="152.8" fill="none" stroke="#444" stroke-width="1.1" rx="0.8"/>
<text transform="translate(510.49,35.7) rotate(-90) scale(0.8,1)" font-size="9.3" fill="#231f20" stroke="#231f20" stroke-width="0.25">T</text>
<text transform="translate(520.29,35.7) rotate(-90) scale(0.8,1)" font-size="9.3" fill="#231f20" stroke="#231f20" stroke-width="0.25">CL</text>
<rect x="502.59" y="11.4" width="19.1" height="9.5" fill="#d39665" stroke="#3a3a3a" stroke-width="1" rx="0.4"/>
<rect x="523.7" y="39.5" width="9.85" height="9.6" fill="#fbeaa2"/>
<rect x="533.5" y="39.5" width="9.85" height="9.6" fill="#fdf3cd"/>
<rect x="533.5" y="49.05" width="9.85" height="9.6" fill="#fffbeb"/>
<rect x="523.7" y="68.15" width="9.85" height="9.6" fill="#f7e07e"/>
<rect x="533.5" y="68.15" width="9.85" height="9.6" fill="#fbeaa2"/>
<rect x="523.7" y="77.7" width="9.85" height="9.6" fill="#fcf0c1"/>
<rect x="533.5" y="77.7" width="9.85" height="9.6" fill="#fef7dc"/>
<rect x="533.5" y="87.25" width="9.85" height="9.6" fill="#fef7dc"/>
<rect x="523.7" y="96.8" width="9.85" height="9.6" fill="#fffbeb"/>
<rect x="533.5" y="96.8" width="9.85" height="9.6" fill="#fcf0c1"/>
<rect x="533.5" y="106.35" width="9.85" height="9.6" fill="#fdf3cd"/>
<rect x="523.7" y="115.9" width="9.85" height="9.6" fill="#fffbeb"/>
<rect x="533.5" y="115.9" width="9.85" height="9.6" fill="#fffbeb"/>
<rect x="523.7" y="125.45" width="9.85" height="9.6" fill="#fffbeb"/>
<rect x="523.7" y="135" width="9.85" height="9.6" fill="#fffbeb"/>
<rect x="533.5" y="144.55" width="9.85" height="9.6" fill="#fef7dc"/>
<rect x="523.7" y="154.1" width="9.85" height="9.6" fill="#fffbeb"/>
<rect x="523.7" y="163.65" width="9.85" height="9.6" fill="#fffdf4"/>
<rect x="533.5" y="163.65" width="9.85" height="9.6" fill="#fffdf4"/>
<rect x="523.7" y="173.2" width="9.85" height="9.6" fill="#fffdf4"/>
<rect x="533.5" y="173.2" width="9.85" height="9.6" fill="#fffdf4"/>
<rect x="523.7" y="182.75" width="9.85" height="9.6" fill="#fffdf4"/>
<rect x="533.5" y="182.75" width="9.85" height="9.6" fill="#fffdf4"/>
<rect x="523.7" y="39.5" width="19.6" height="152.8" fill="none" stroke="#444" stroke-width="1.1" rx="0.8"/>
<text transform="translate(531.9,35.7) rotate(-90) scale(0.8,1)" font-size="9.3" fill="#231f20" stroke="#231f20" stroke-width="0.25">T</text>
<text transform="translate(541.7,35.7) rotate(-90) scale(0.8,1)" font-size="9.3" fill="#231f20" stroke="#231f20" stroke-width="0.25">CL</text>
<rect x="524" y="11.4" width="19.1" height="9.5" fill="#fb8c3c" stroke="#3a3a3a" stroke-width="1" rx="0.4"/>
<text transform="translate(63.8,46.75) scale(0.82,1)" font-size="9.6" text-anchor="end" font-style="italic" fill="#231f20" stroke="#231f20" stroke-width="0.38">MYC</text>
<text transform="translate(63.8,56.3) scale(0.82,1)" font-size="9.6" text-anchor="end" font-style="italic" fill="#231f20" stroke="#231f20" stroke-width="0.38">CCND1</text>
<text transform="translate(63.8,65.85) scale(0.82,1)" font-size="9.6" text-anchor="end" font-style="italic" fill="#231f20" stroke="#231f20" stroke-width="0.38">EGFR</text>
<text transform="translate(63.8,75.4) scale(0.82,1)" font-size="9.6" text-anchor="end" font-style="italic" fill="#231f20" stroke="#231f20" stroke-width="0.38">CCNE1</text>
<text transform="translate(63.8,84.95) scale(0.82,1)" font-size="9.6" text-anchor="end" font-style="italic" fill="#231f20" stroke="#231f20" stroke-width="0.38">ERBB2</text>
<text transform="translate(63.8,94.5) scale(0.82,1)" font-size="9.6" text-anchor="end" font-style="italic" fill="#231f20" stroke="#231f20" stroke-width="0.38">MDM2</text>
<text transform="translate(63.8,104.05) scale(0.82,1)" font-size="9.6" text-anchor="end" font-style="italic" fill="#231f20" stroke="#231f20" stroke-width="0.38">KRAS</text>
<text transform="translate(63.8,113.6) scale(0.82,1)" font-size="9.6" text-anchor="end" font-style="italic" fill="#231f20" stroke="#231f20" stroke-width="0.38">CDK4</text>
<text transform="translate(63.8,123.15) scale(0.82,1)" font-size="9.6" text-anchor="end" font-style="italic" fill="#231f20" stroke="#231f20" stroke-width="0.38">GNAS</text>
<text transform="translate(63.8,132.7) scale(0.82,1)" font-size="9.6" text-anchor="end" font-style="italic" fill="#231f20" stroke="#231f20" stroke-width="0.38">CDKAL1</text>
<text transform="translate(63.8,142.25) scale(0.82,1)" font-size="9.6" text-anchor="end" font-style="italic" fill="#231f20" stroke="#231f20" stroke-width="0.38">FRS3</text>
<text transform="translate(63.8,151.8) scale(0.82,1)" font-size="9.6" text-anchor="end" font-style="italic" fill="#231f20" stroke="#231f20" stroke-width="0.38">YAP1</text>
<text transform="translate(63.8,161.35) scale(0.82,1)" font-size="9.6" text-anchor="end" font-style="italic" fill="#231f20" stroke="#231f20" stroke-width="0.38">HNF1B</text>
<text transform="translate(63.8,170.9) scale(0.82,1)" font-size="9.6" text-anchor="end" font-style="italic" fill="#231f20" stroke="#231f20" stroke-width="0.38">MET</text>
<text transform="translate(63.8,180.45) scale(0.82,1)" font-size="9.6" text-anchor="end" font-style="italic" fill="#231f20" stroke="#231f20" stroke-width="0.38">CRKL</text>
<text transform="translate(63.8,190) scale(0.82,1)" font-size="9.6" text-anchor="end" font-style="italic" fill="#231f20" stroke="#231f20" stroke-width="0.38">ELF5</text>
<text transform="translate(5.9,221.7) scale(1.07,1)" font-size="20.2" font-weight="bold" fill="#000">b</text>
<text transform="translate(65.4,241.5) scale(0.81,1)" font-size="9.6" text-anchor="end" fill="#231f20" stroke="#231f20" stroke-width="0.2">Tumour type</text>
<rect x="67.8" y="234" width="0.75" height="11" fill="#a02828"/>
<rect x="68.5" y="234" width="1.45" height="11" fill="#d03a30"/>
<rect x="69.9" y="234" width="0.65" height="11" fill="#c8c8c8"/>
<rect x="70.5" y="234" width="1.45" height="11" fill="#3070c0"/>
<rect x="71.9" y="234" width="0.95" height="11" fill="#20907a"/>
<rect x="72.8" y="234" width="2.15" height="11" fill="#7030a0"/>
<rect x="74.9" y="234" width="0.95" height="11" fill="#c8c8e0"/>
<rect x="75.8" y="234" width="1.65" height="11" fill="#4080c0"/>
<rect x="77.4" y="234" width="0.45" height="11" fill="#a0a0a0"/>
<rect x="77.8" y="234" width="1.45" height="11" fill="#f06020"/>
<rect x="79.2" y="234" width="0.45" height="11" fill="#606020"/>
<rect x="79.6" y="234" width="2.35" height="11" fill="#b0e0a0"/>
<rect x="81.9" y="234" width="0.75" height="11" fill="#f0f0f0"/>
<rect x="82.6" y="234" width="0.45" height="11" fill="#b090d0"/>
<rect x="83" y="234" width="2.15" height="11" fill="#f8c0a0"/>
<rect x="85.1" y="234" width="0.75" height="11" fill="#f0e8e0"/>
<rect x="85.8" y="234" width="6.25" height="11" fill="#3070c0"/>
<rect x="92" y="234" width="1.05" height="11" fill="#a03040"/>
<rect x="93" y="234" width="0.95" height="11" fill="#f07070"/>
<rect x="93.9" y="234" width="0.65" height="11" fill="#d0d0d0"/>
<rect x="94.5" y="234" width="1.45" height="11" fill="#c090f0"/>
<rect x="95.9" y="234" width="0.95" height="11" fill="#e0a020"/>
<rect x="96.8" y="234" width="1.45" height="11" fill="#30a050"/>
<rect x="98.2" y="234" width="0.45" height="11" fill="#604030"/>
<rect x="98.6" y="234" width="1.45" height="11" fill="#e03020"/>
<rect x="100" y="234" width="0.75" height="11" fill="#a09080"/>
<rect x="100.7" y="234" width="1.15" height="11" fill="#c07040"/>
<rect x="101.8" y="234" width="1.25" height="11" fill="#e07030"/>
<rect x="103" y="234" width="0.95" height="11" fill="#a03060"/>
<rect x="103.9" y="234" width="0.95" height="11" fill="#f4f0e8"/>
<rect x="104.8" y="234" width="0.95" height="11" fill="#e09020"/>
<rect x="105.7" y="234" width="1.15" height="11" fill="#a03010"/>
<rect x="106.8" y="234" width="0.55" height="11" fill="#f0f0f0"/>
<rect x="107.3" y="234" width="1.15" height="11" fill="#c0d8c0"/>
<rect x="108.4" y="234" width="0.55" height="11" fill="#ffffff"/>
<rect x="108.9" y="234" width="1.15" height="11" fill="#6030c0"/>
<rect x="110" y="234" width="0.95" height="11" fill="#e8e8e8"/>
<rect x="110.9" y="234" width="1.15" height="11" fill="#f06010"/>
<rect x="112" y="234" width="3.15" height="11" fill="#408030"/>
<rect x="115.1" y="234" width="0.95" height="11" fill="#3070c0"/>
<rect x="116" y="234" width="1.05" height="11" fill="#c0a0e0"/>
<rect x="117" y="234" width="0.95" height="11" fill="#c07030"/>
<rect x="117.9" y="234" width="6.15" height="11" fill="#d4f855"/>
<rect x="124" y="234" width="1.15" height="11" fill="#e09050"/>
<rect x="125.1" y="234" width="0.95" height="11" fill="#a0a8c0"/>
<rect x="126" y="234" width="1.25" height="11" fill="#6060b0"/>
<rect x="127.2" y="234" width="0.95" height="11" fill="#d8d8d8"/>
<rect x="128.1" y="234" width="3.95" height="11" fill="#20a060"/>
<rect x="132" y="234" width="0.95" height="11" fill="#803010"/>
<rect x="132.9" y="234" width="1.15" height="11" fill="#7040a0"/>
<rect x="134" y="234" width="0.95" height="11" fill="#a0b0c8"/>
<rect x="134.9" y="234" width="0.75" height="11" fill="#f8e0d0"/>
<rect x="135.6" y="234" width="1.15" height="11" fill="#f8c090"/>
<rect x="136.7" y="234" width="0.95" height="11" fill="#a0a8c0"/>
<rect x="137.6" y="234" width="1.55" height="11" fill="#f08020"/>
<rect x="139.1" y="234" width="0.95" height="11" fill="#d0d0d0"/>
<rect x="140" y="234" width="2.35" height="11" fill="#7030b0"/>
<rect x="142.3" y="234" width="0.55" height="11" fill="#f0e8e8"/>
<rect x="142.8" y="234" width="1.35" height="11" fill="#f05020"/>
<rect x="144.1" y="234" width="0.95" height="11" fill="#f080a0"/>
<rect x="145" y="234" width="1.05" height="11" fill="#e0f0a0"/>
<rect x="146" y="234" width="0.95" height="11" fill="#e0a030"/>
<rect x="146.9" y="234" width="0.95" height="11" fill="#f8f0e0"/>
<rect x="147.8" y="234" width="1.65" height="11" fill="#f0a080"/>
<rect x="149.4" y="234" width="0.45" height="11" fill="#a0a0a0"/>
<rect x="149.8" y="234" width="1.85" height="11" fill="#3070c0"/>
<rect x="151.6" y="234" width="1.25" height="11" fill="#e04060"/>
<rect x="152.8" y="234" width="0.95" height="11" fill="#90a060"/>
<rect x="153.7" y="234" width="1.35" height="11" fill="#e09030"/>
<rect x="155" y="234" width="0.95" height="11" fill="#f4f4f0"/>
<rect x="155.9" y="234" width="1.25" height="11" fill="#a0f0a0"/>
<rect x="157.1" y="234" width="1.45" height="11" fill="#20e0b0"/>
<rect x="158.5" y="234" width="0.65" height="11" fill="#a0b0c8"/>
<rect x="159.1" y="234" width="0.75" height="11" fill="#f08030"/>
<rect x="159.8" y="234" width="1.25" height="11" fill="#a01010"/>
<rect x="161" y="234" width="0.65" height="11" fill="#e0e0a0"/>
<rect x="161.6" y="234" width="1.85" height="11" fill="#d0f860"/>
<rect x="163.4" y="234" width="0.65" height="11" fill="#e0b030"/>
<rect x="164" y="234" width="1.05" height="11" fill="#907060"/>
<rect x="165" y="234" width="0.95" height="11" fill="#b0b0b0"/>
<rect x="165.9" y="234" width="0.95" height="11" fill="#6080b0"/>
<rect x="166.8" y="234" width="1.15" height="11" fill="#c06020"/>
<rect x="167.9" y="234" width="0.95" height="11" fill="#905030"/>
<rect x="168.8" y="234" width="1.25" height="11" fill="#d0c040"/>
<rect x="170" y="234" width="0.45" height="11" fill="#b0a0a0"/>
<rect x="170.4" y="234" width="2.55" height="11" fill="#f08070"/>
<rect x="172.9" y="234" width="0.55" height="11" fill="#a0a0a0"/>
<rect x="173.4" y="234" width="1.65" height="11" fill="#4080c0"/>
<rect x="175" y="234" width="0.65" height="11" fill="#e0e0e0"/>
<rect x="175.6" y="234" width="1.25" height="11" fill="#e0b080"/>
<rect x="176.8" y="234" width="1.35" height="11" fill="#2070a0"/>
<rect x="178.1" y="234" width="0.75" height="11" fill="#f090a0"/>
<rect x="178.8" y="234" width="1.25" height="11" fill="#c03050"/>
<rect x="180" y="234" width="0.65" height="11" fill="#901020"/>
<rect x="180.6" y="234" width="1.45" height="11" fill="#6030c0"/>
<rect x="182" y="234" width="0.95" height="11" fill="#e03040"/>
<rect x="182.9" y="234" width="1.45" height="11" fill="#c0a0f0"/>
<rect x="184.3" y="234" width="1.15" height="11" fill="#9040a0"/>
<rect x="185.4" y="234" width="1.55" height="11" fill="#e0a0c0"/>
<rect x="186.9" y="234" width="1.15" height="11" fill="#3080b0"/>
<rect x="188" y="234" width="2.85" height="11" fill="#e09050"/>
<rect x="190.8" y="234" width="1.15" height="11" fill="#c0a0a0"/>
<rect x="191.9" y="234" width="1.45" height="11" fill="#f07020"/>
<rect x="193.3" y="234" width="0.75" height="11" fill="#f0f0e0"/>
<rect x="194" y="234" width="1.15" height="11" fill="#80f060"/>
<rect x="195.1" y="234" width="0.75" height="11" fill="#808020"/>
<rect x="195.8" y="234" width="0.75" height="11" fill="#e8f0e0"/>
<rect x="196.5" y="234" width="11.95" height="11" fill="#bcdcaa"/>
<rect x="208.4" y="234" width="10.75" height="11" fill="#6b2fa0"/>
<rect x="219.1" y="234" width="5.15" height="11" fill="#2de2b0"/>
<rect x="224.2" y="234" width="19.85" height="11" fill="#f9c7a6"/>
<rect x="244" y="234" width="4.75" height="11" fill="#c6551a"/>
<rect x="248.7" y="234" width="4.05" height="11" fill="#b7d3ee"/>
<rect x="252.7" y="234" width="7.85" height="11" fill="#f46e6e"/>
<rect x="260.5" y="234" width="12.85" height="11" fill="#fbd46a"/>
<rect x="273.3" y="234" width="6.75" height="11" fill="#4a7d2d"/>
<rect x="280" y="234" width="41.85" height="11" fill="#2b6db4"/>
<rect x="321.8" y="234" width="50.95" height="11" fill="#f50000"/>
<rect x="372.7" y="234" width="37.75" height="11" fill="#a3a3a3"/>
<rect x="410.4" y="234" width="20.55" height="11" fill="#c89cf4"/>
<rect x="430.9" y="234" width="18.25" height="11" fill="#c99208"/>
<rect x="449.1" y="234" width="3.55" height="11" fill="#b5bfd2"/>
<rect x="452.6" y="234" width="26.05" height="11" fill="#2f9364"/>
<rect x="478.6" y="234" width="26.85" height="11" fill="#7f3d10"/>
<rect x="505.4" y="234" width="5.15" height="11" fill="#c70d14"/>
<rect x="510.5" y="234" width="11.25" height="11" fill="#d4f65e"/>
<rect x="521.7" y="234" width="7.35" height="11" fill="#d39665"/>
<rect x="529" y="234" width="14.25" height="11" fill="#fb8c3c"/>
<rect x="67.8" y="234" width="475.4" height="11" fill="none" stroke="#8a8a8a" stroke-width="0.6"/>
<rect x="67.6" y="256.4" width="475.6" height="153.92" fill="#fafafd"/>
<rect x="67.7" y="256.4" width="32.4" height="9.62" fill="#f7666b"/>
<rect x="100.1" y="266.02" width="25.5" height="9.62" fill="#f7666b"/>
<rect x="126" y="275.64" width="8.8" height="9.62" fill="#f7666b"/>
<rect x="134.8" y="285.26" width="3.8" height="9.62" fill="#f7666b"/>
<rect x="139" y="294.88" width="6.9" height="9.62" fill="#f7666b"/>
<rect x="146.1" y="304.5" width="8.4" height="9.62" fill="#f7666b"/>
<rect x="154.8" y="314.12" width="9.7" height="9.62" fill="#f7666b"/>
<rect x="164.9" y="323.74" width="5" height="9.62" fill="#f7666b"/>
<rect x="170.2" y="333.36" width="4.9" height="9.62" fill="#f7666b"/>
<rect x="175.3" y="342.98" width="5.3" height="9.62" fill="#f7666b"/>
<rect x="180.6" y="352.6" width="4.3" height="9.62" fill="#f7666b"/>
<rect x="184.9" y="362.22" width="2.9" height="9.62" fill="#f7666b"/>
<rect x="187.8" y="371.84" width="3.2" height="9.62" fill="#f7666b"/>
<rect x="191" y="381.46" width="2.5" height="9.62" fill="#f7666b"/>
<rect x="193.5" y="391.08" width="1.7" height="9.62" fill="#f7666b"/>
<rect x="195" y="400.7" width="1.3" height="9.62" fill="#f7666b"/>
<rect x="126" y="285.26" width="7" height="9.62" fill="#f7666b"/>
<rect x="67.7" y="266.02" width="1.7" height="9.62" fill="#f7666b"/>
<rect x="69.9" y="275.64" width="3" height="9.62" fill="#f7666b"/>
<rect x="69" y="285.26" width="1.2" height="9.62" fill="#f7666b" fill-opacity="0.45"/>
<rect x="73.1" y="294.88" width="2.4" height="9.62" fill="#f7666b"/>
<rect x="75.7" y="304.5" width="2.4" height="9.62" fill="#f7666b"/>
<rect x="69.9" y="304.5" width="1" height="9.62" fill="#f7666b" fill-opacity="0.4"/>
<rect x="78" y="314.12" width="1" height="9.62" fill="#f7666b" fill-opacity="0.6"/>
<rect x="67.4" y="323.74" width="1" height="9.62" fill="#f7666b" fill-opacity="0.4"/>
<rect x="70.3" y="323.74" width="1.6" height="9.62" fill="#f7666b" fill-opacity="0.8"/>
<rect x="78.6" y="323.74" width="0.8" height="9.62" fill="#f7666b" fill-opacity="0.4"/>
<rect x="70.3" y="333.36" width="0.8" height="9.62" fill="#f7666b" fill-opacity="0.4"/>
<rect x="73.1" y="333.36" width="0.8" height="9.62" fill="#f7666b" fill-opacity="0.4"/>
<rect x="79" y="333.36" width="0.7" height="9.62" fill="#f7666b" fill-opacity="0.4"/>
<rect x="73.1" y="362.22" width="1" height="9.62" fill="#f7666b" fill-opacity="0.85"/>
<rect x="79.2" y="381.46" width="0.8" height="9.62" fill="#f7666b" fill-opacity="0.6"/>
<rect x="100.1" y="275.64" width="2.5" height="9.62" fill="#f7666b" fill-opacity="0.75"/>
<rect x="100.6" y="285.26" width="1.4" height="9.62" fill="#f7666b" fill-opacity="0.55"/>
<rect x="101.6" y="294.88" width="1.6" height="9.62" fill="#f7666b" fill-opacity="0.6"/>
<rect x="102.3" y="304.5" width="1.2" height="9.62" fill="#f7666b" fill-opacity="0.5"/>
<rect x="102.8" y="314.12" width="1" height="9.62" fill="#f7666b" fill-opacity="0.55"/>
<rect x="103.4" y="323.74" width="1" height="9.62" fill="#f7666b" fill-opacity="0.6"/>
<rect x="104.6" y="333.36" width="0.8" height="9.62" fill="#f7666b" fill-opacity="0.5"/>
<rect x="106.4" y="333.36" width="0.9" height="9.62" fill="#f7666b" fill-opacity="0.6"/>
<rect x="106.7" y="342.98" width="0.8" height="9.62" fill="#f7666b" fill-opacity="0.55"/>
<rect x="103" y="362.22" width="0.8" height="9.62" fill="#f7666b" fill-opacity="0.55"/>
<rect x="107.4" y="391.08" width="0.9" height="9.62" fill="#f7666b" fill-opacity="0.55"/>
<rect x="107.6" y="400.7" width="0.9" height="9.62" fill="#f7666b" fill-opacity="0.55"/>
<rect x="125.3" y="381.46" width="0.8" height="9.62" fill="#f7666b" fill-opacity="0.5"/>
<rect x="133" y="294.88" width="0.8" height="9.62" fill="#f7666b" fill-opacity="0.5"/>
<rect x="135" y="323.74" width="0.8" height="9.62" fill="#f7666b" fill-opacity="0.5"/>
<rect x="138.7" y="333.36" width="0.8" height="9.62" fill="#f7666b" fill-opacity="0.6"/>
<rect x="139" y="342.98" width="0.9" height="9.62" fill="#f7666b" fill-opacity="0.8"/>
<rect x="139.4" y="352.6" width="0.8" height="9.62" fill="#f7666b" fill-opacity="0.4"/>
<rect x="139.6" y="362.22" width="0.8" height="9.62" fill="#f7666b" fill-opacity="0.35"/>
<rect x="138.7" y="400.7" width="0.9" height="9.62" fill="#f7666b" fill-opacity="0.8"/>
<rect x="146.2" y="333.36" width="0.8" height="9.62" fill="#f7666b" fill-opacity="0.6"/>
<rect x="146.6" y="352.6" width="0.8" height="9.62" fill="#f7666b" fill-opacity="0.5"/>
<rect x="147" y="381.46" width="0.8" height="9.62" fill="#f7666b" fill-opacity="0.5"/>
<rect x="154.6" y="342.98" width="1.7" height="9.62" fill="#f7666b" fill-opacity="0.9"/>
<rect x="155.6" y="391.08" width="0.9" height="9.62" fill="#f7666b" fill-opacity="0.55"/>
<rect x="164.6" y="333.36" width="0.8" height="9.62" fill="#f7666b" fill-opacity="0.5"/>
<rect x="164.7" y="371.84" width="0.8" height="9.62" fill="#f7666b" fill-opacity="0.45"/>
<rect x="170.1" y="371.84" width="0.8" height="19.24" fill="#f7666b" fill-opacity="0.45"/>
<rect x="180.3" y="391.08" width="0.8" height="9.62" fill="#f7666b" fill-opacity="0.5"/>
<line x1="67.6" y1="256.4" x2="543.2" y2="256.4" stroke="#7a7a7a" stroke-width="1"/>
<line x1="67.6" y1="410.32" x2="543.2" y2="410.32" stroke="#9a9a9a" stroke-width="0.9"/>
<line x1="67.6" y1="256.4" x2="67.6" y2="410.32" stroke="#c8c8c8" stroke-width="0.7"/>
<line x1="543.2" y1="256.4" x2="543.2" y2="410.32" stroke="#d0d0d0" stroke-width="0.7"/>
<text transform="translate(64,263.55) scale(0.82,1)" font-size="9.5" text-anchor="end" font-style="italic" fill="#231f20" stroke="#231f20" stroke-width="0.3">MYC</text>
<text transform="translate(64,273.17) scale(0.82,1)" font-size="9.5" text-anchor="end" font-style="italic" fill="#231f20" stroke="#231f20" stroke-width="0.3">CCND1</text>
<text transform="translate(64,282.79) scale(0.82,1)" font-size="9.5" text-anchor="end" font-style="italic" fill="#231f20" stroke="#231f20" stroke-width="0.3">CDK4</text>
<text transform="translate(64,292.41) scale(0.82,1)" font-size="9.5" text-anchor="end" font-style="italic" fill="#231f20" stroke="#231f20" stroke-width="0.3">MDM2</text>
<text transform="translate(64,302.03) scale(0.82,1)" font-size="9.5" text-anchor="end" font-style="italic" fill="#231f20" stroke="#231f20" stroke-width="0.3">ERBB2</text>
<text transform="translate(64,311.65) scale(0.82,1)" font-size="9.5" text-anchor="end" font-style="italic" fill="#231f20" stroke="#231f20" stroke-width="0.3">KRAS</text>
<text transform="translate(64,321.27) scale(0.82,1)" font-size="9.5" text-anchor="end" font-style="italic" fill="#231f20" stroke="#231f20" stroke-width="0.3">YAP1</text>
<text transform="translate(64,330.89) scale(0.82,1)" font-size="9.5" text-anchor="end" font-style="italic" fill="#231f20" stroke="#231f20" stroke-width="0.3">EGFR</text>
<text transform="translate(64,340.51) scale(0.82,1)" font-size="9.5" text-anchor="end" font-style="italic" fill="#231f20" stroke="#231f20" stroke-width="0.3">MET</text>
<text transform="translate(64,350.13) scale(0.82,1)" font-size="9.5" text-anchor="end" font-style="italic" fill="#231f20" stroke="#231f20" stroke-width="0.3">CRKL</text>
<text transform="translate(64,359.75) scale(0.82,1)" font-size="9.5" text-anchor="end" font-style="italic" fill="#231f20" stroke="#231f20" stroke-width="0.3">CCNE1</text>
<text transform="translate(64,369.37) scale(0.82,1)" font-size="9.5" text-anchor="end" font-style="italic" fill="#231f20" stroke="#231f20" stroke-width="0.3">GNAS</text>
<text transform="translate(64,378.99) scale(0.82,1)" font-size="9.5" text-anchor="end" font-style="italic" fill="#231f20" stroke="#231f20" stroke-width="0.3">CDKAL1</text>
<text transform="translate(64,388.61) scale(0.82,1)" font-size="9.5" text-anchor="end" font-style="italic" fill="#231f20" stroke="#231f20" stroke-width="0.3">FRS3</text>
<text transform="translate(64,398.23) scale(0.82,1)" font-size="9.5" text-anchor="end" font-style="italic" fill="#231f20" stroke="#231f20" stroke-width="0.3">ELF5</text>
<text transform="translate(64,407.85) scale(0.82,1)" font-size="9.5" text-anchor="end" font-style="italic" fill="#231f20" stroke="#231f20" stroke-width="0.3">HNF1B</text>
<rect x="51.1" y="420.2" width="10.7" height="12.65" fill="#bcdcaa" stroke="#555" stroke-width="0.7"/>
<text transform="translate(63.4,429.62) scale(0.9,1)" font-size="8.8" fill="#231f20" stroke="#231f20" stroke-width="0.2">Bile Duct (<tspan font-style="italic">n</tspan><tspan dx="1.3"> = 37)</tspan></text>
<rect x="51.1" y="432.85" width="10.7" height="12.65" fill="#6b2fa0" stroke="#555" stroke-width="0.7"/>
<text transform="translate(63.4,442.27) scale(0.9,1)" font-size="8.8" fill="#231f20" stroke="#231f20" stroke-width="0.2">Breast (<tspan font-style="italic">n</tspan><tspan dx="1.3"> = 42)</tspan></text>
<rect x="51.1" y="445.5" width="10.7" height="12.65" fill="#2de2b0" stroke="#555" stroke-width="0.7"/>
<text transform="translate(63.4,454.93) scale(0.9,1)" font-size="8.8" fill="#231f20" stroke="#231f20" stroke-width="0.2">Cervix (<tspan font-style="italic">n</tspan><tspan dx="1.3"> = 15)</tspan></text>
<rect x="51.1" y="458.15" width="10.7" height="12.65" fill="#f9c7a6" stroke="#555" stroke-width="0.7"/>
<text transform="translate(63.4,467.57) scale(0.9,1)" font-size="8.8" fill="#231f20" stroke="#231f20" stroke-width="0.2">Colorectal (<tspan font-style="italic">n</tspan><tspan dx="1.3"> = 51)</tspan></text>
<rect x="51.1" y="470.8" width="10.7" height="12.65" fill="#dcefd8" stroke="#555" stroke-width="0.7"/>
<text transform="translate(63.4,480.23) scale(0.9,1)" font-size="8.8" fill="#231f20" stroke="#231f20" stroke-width="0.2">Engineered (<tspan font-style="italic">n</tspan><tspan dx="1.3"> = 2)</tspan></text>
<rect x="51.1" y="483.45" width="10.7" height="12.65" fill="#c6551a" stroke="#555" stroke-width="0.7"/>
<text transform="translate(63.4,492.88) scale(0.9,1)" font-size="8.8" fill="#231f20" stroke="#231f20" stroke-width="0.2">Esophagus (<tspan font-style="italic">n</tspan><tspan dx="1.3"> = 29)</tspan></text>
<rect x="147.8" y="420.2" width="10.7" height="12.65" fill="#b7d3ee" stroke="#555" stroke-width="0.7"/>
<text transform="translate(160.1,429.62) scale(0.9,1)" font-size="8.8" fill="#231f20" stroke="#231f20" stroke-width="0.2">Eye (<tspan font-style="italic">n</tspan><tspan dx="1.3"> = 7)</tspan></text>
<rect x="147.8" y="432.85" width="10.7" height="12.65" fill="#f7b500" stroke="#555" stroke-width="0.7"/>
<text transform="translate(160.1,442.27) scale(0.9,1)" font-size="8.8" fill="#231f20" stroke="#231f20" stroke-width="0.2">Fibroblast (<tspan font-style="italic">n</tspan><tspan dx="1.3"> = 1)</tspan></text>
<rect x="147.8" y="445.5" width="10.7" height="12.65" fill="#f46e6e" stroke="#555" stroke-width="0.7"/>
<text transform="translate(160.1,454.93) scale(0.9,1)" font-size="8.8" fill="#231f20" stroke="#231f20" stroke-width="0.2">Gastric (<tspan font-style="italic">n</tspan><tspan dx="1.3"> = 29)</tspan></text>
<rect x="147.8" y="458.15" width="10.7" height="12.65" fill="#fbd46a" stroke="#555" stroke-width="0.7"/>
<text transform="translate(160.1,467.57) scale(0.9,1)" font-size="8.8" fill="#231f20" stroke="#231f20" stroke-width="0.2">Kidney (<tspan font-style="italic">n</tspan><tspan dx="1.3"> = 28)</tspan></text>
<rect x="147.8" y="470.8" width="10.7" height="12.65" fill="#4a7d2d" stroke="#555" stroke-width="0.7"/>
<text transform="translate(160.1,480.23) scale(0.9,1)" font-size="8.8" fill="#231f20" stroke="#231f20" stroke-width="0.2">Liver (<tspan font-style="italic">n</tspan><tspan dx="1.3"> = 22)</tspan></text>
<rect x="147.8" y="483.45" width="10.7" height="12.65" fill="#2b6db4" stroke="#555" stroke-width="0.7"/>
<text transform="translate(160.1,492.88) scale(0.9,1)" font-size="8.8" fill="#231f20" stroke="#231f20" stroke-width="0.2">Lung (<tspan font-style="italic">n</tspan><tspan dx="1.3"> = 125)</tspan></text>
<rect x="234.2" y="420.2" width="10.7" height="12.65" fill="#f50000" stroke="#555" stroke-width="0.7"/>
<text transform="translate(246.5,429.62) scale(0.9,1)" font-size="8.8" fill="#231f20" stroke="#231f20" stroke-width="0.2">Lymphocyte (<tspan font-style="italic">n</tspan><tspan dx="1.3"> = 107)</tspan></text>
<rect x="234.2" y="432.85" width="10.7" height="12.65" fill="#a3a3a3" stroke="#555" stroke-width="0.7"/>
<text transform="translate(246.5,442.27) scale(0.9,1)" font-size="8.8" fill="#231f20" stroke="#231f20" stroke-width="0.2">Nervous System (<tspan font-style="italic">n</tspan><tspan dx="1.3"> = 92)</tspan></text>
<rect x="234.2" y="445.5" width="10.7" height="12.65" fill="#c89cf4" stroke="#555" stroke-width="0.7"/>
<text transform="translate(246.5,454.93) scale(0.9,1)" font-size="8.8" fill="#231f20" stroke="#231f20" stroke-width="0.2">Ovary (<tspan font-style="italic">n</tspan><tspan dx="1.3"> = 54)</tspan></text>
<rect x="234.2" y="458.15" width="10.7" height="12.65" fill="#c99208" stroke="#555" stroke-width="0.7"/>
<text transform="translate(246.5,467.57) scale(0.9,1)" font-size="8.8" fill="#231f20" stroke="#231f20" stroke-width="0.2">Pancreas (<tspan font-style="italic">n</tspan><tspan dx="1.3"> = 44)</tspan></text>
<rect x="234.2" y="470.8" width="10.7" height="12.65" fill="#b5bfd2" stroke="#555" stroke-width="0.7"/>
<text transform="translate(246.5,480.23) scale(0.9,1)" font-size="8.8" fill="#231f20" stroke="#231f20" stroke-width="0.2">Prostate (<tspan font-style="italic">n</tspan><tspan dx="1.3"> = 7)</tspan></text>
<rect x="234.2" y="483.45" width="10.7" height="12.65" fill="#7f3d10" stroke="#555" stroke-width="0.7"/>
<text transform="translate(246.5,492.88) scale(0.9,1)" font-size="8.8" fill="#231f20" stroke="#231f20" stroke-width="0.2">Skin (<tspan font-style="italic">n</tspan><tspan dx="1.3"> = 65)</tspan></text>
<rect x="346.8" y="420.2" width="10.7" height="12.65" fill="#2f9364" stroke="#555" stroke-width="0.7"/>
<text transform="translate(359.1,429.62) scale(0.9,1)" font-size="8.8" fill="#231f20" stroke="#231f20" stroke-width="0.2">Sarcoma (<tspan font-style="italic">n</tspan><tspan dx="1.3"> = 70)</tspan></text>
<rect x="346.8" y="432.85" width="10.7" height="12.65" fill="#c70d14" stroke="#555" stroke-width="0.7"/>
<text transform="translate(359.1,442.27) scale(0.9,1)" font-size="8.8" fill="#231f20" stroke="#231f20" stroke-width="0.2">Thyroid (<tspan font-style="italic">n</tspan><tspan dx="1.3"> = 13)</tspan></text>
<rect x="346.8" y="445.5" width="10.7" height="12.65" fill="#d4f65e" stroke="#555" stroke-width="0.7"/>
<text transform="translate(359.1,454.93) scale(0.9,1)" font-size="8.8" fill="#231f20" stroke="#231f20" stroke-width="0.2">Upper Aerodigestive (<tspan font-style="italic">n</tspan><tspan dx="1.3"> = 50)</tspan></text>
<rect x="346.8" y="458.15" width="10.7" height="12.65" fill="#d39665" stroke="#555" stroke-width="0.7"/>
<text transform="translate(359.1,467.57) scale(0.9,1)" font-size="8.8" fill="#231f20" stroke="#231f20" stroke-width="0.2">Urinary Tract (<tspan font-style="italic">n</tspan><tspan dx="1.3"> = 30)</tspan></text>
<rect x="346.8" y="470.8" width="10.7" height="12.65" fill="#fb8c3c" stroke="#555" stroke-width="0.7"/>
<text transform="translate(359.1,480.23) scale(0.9,1)" font-size="8.8" fill="#231f20" stroke="#231f20" stroke-width="0.2">Uterus (<tspan font-style="italic">n</tspan><tspan dx="1.3"> = 34)</tspan></text>
<defs><linearGradient id="cb" x1="0" x2="1" y1="0" y2="0"><stop offset="0" stop-color="#fffdf0"/><stop offset="0.45" stop-color="#fbdc8c"/><stop offset="0.75" stop-color="#7cc46a"/><stop offset="1" stop-color="#0ea246"/></linearGradient></defs>
<text transform="translate(477.3,434.9) scale(0.93,1)" font-size="8.6" fill="#231f20" stroke="#231f20" stroke-width="0.2">Amplification</text>
<rect x="481.3" y="440.0" width="33.6" height="8.4" fill="url(#cb)" stroke="#555" stroke-width="0.6"/>
<text transform="translate(482,458.4) scale(0.92,1)" font-size="8.6" text-anchor="middle" fill="#231f20" stroke="#231f20" stroke-width="0.2">0</text>
<text transform="translate(497.8,458.4) scale(0.92,1)" font-size="8.6" text-anchor="middle" fill="#231f20" stroke="#231f20" stroke-width="0.2">15</text>
<text transform="translate(514.1,458.4) scale(0.92,1)" font-size="8.6" text-anchor="middle" fill="#231f20" stroke="#231f20" stroke-width="0.2">30</text>
<text transform="translate(477.6,467.6) scale(0.91,1)" font-size="8.6" fill="#231f20" stroke="#231f20" stroke-width="0.2">Frequency (%)</text>
<rect x="478.2" y="475.3" width="10.5" height="12.4" fill="#f7666b" stroke="#555" stroke-width="0.7"/>
<rect x="478.2" y="487.7" width="10.5" height="12.4" fill="#fff" stroke="#555" stroke-width="0.7"/>
<text transform="translate(490.4,484.9) scale(0.9,1)" font-size="8.6" fill="#231f20" stroke="#231f20" stroke-width="0.2">Amplified</text>
<text transform="translate(490.4,497.3) scale(0.91,1)" font-size="8.6" fill="#231f20" stroke="#231f20" stroke-width="0.2">Non-amplified</text>
</svg>
</body></html>
